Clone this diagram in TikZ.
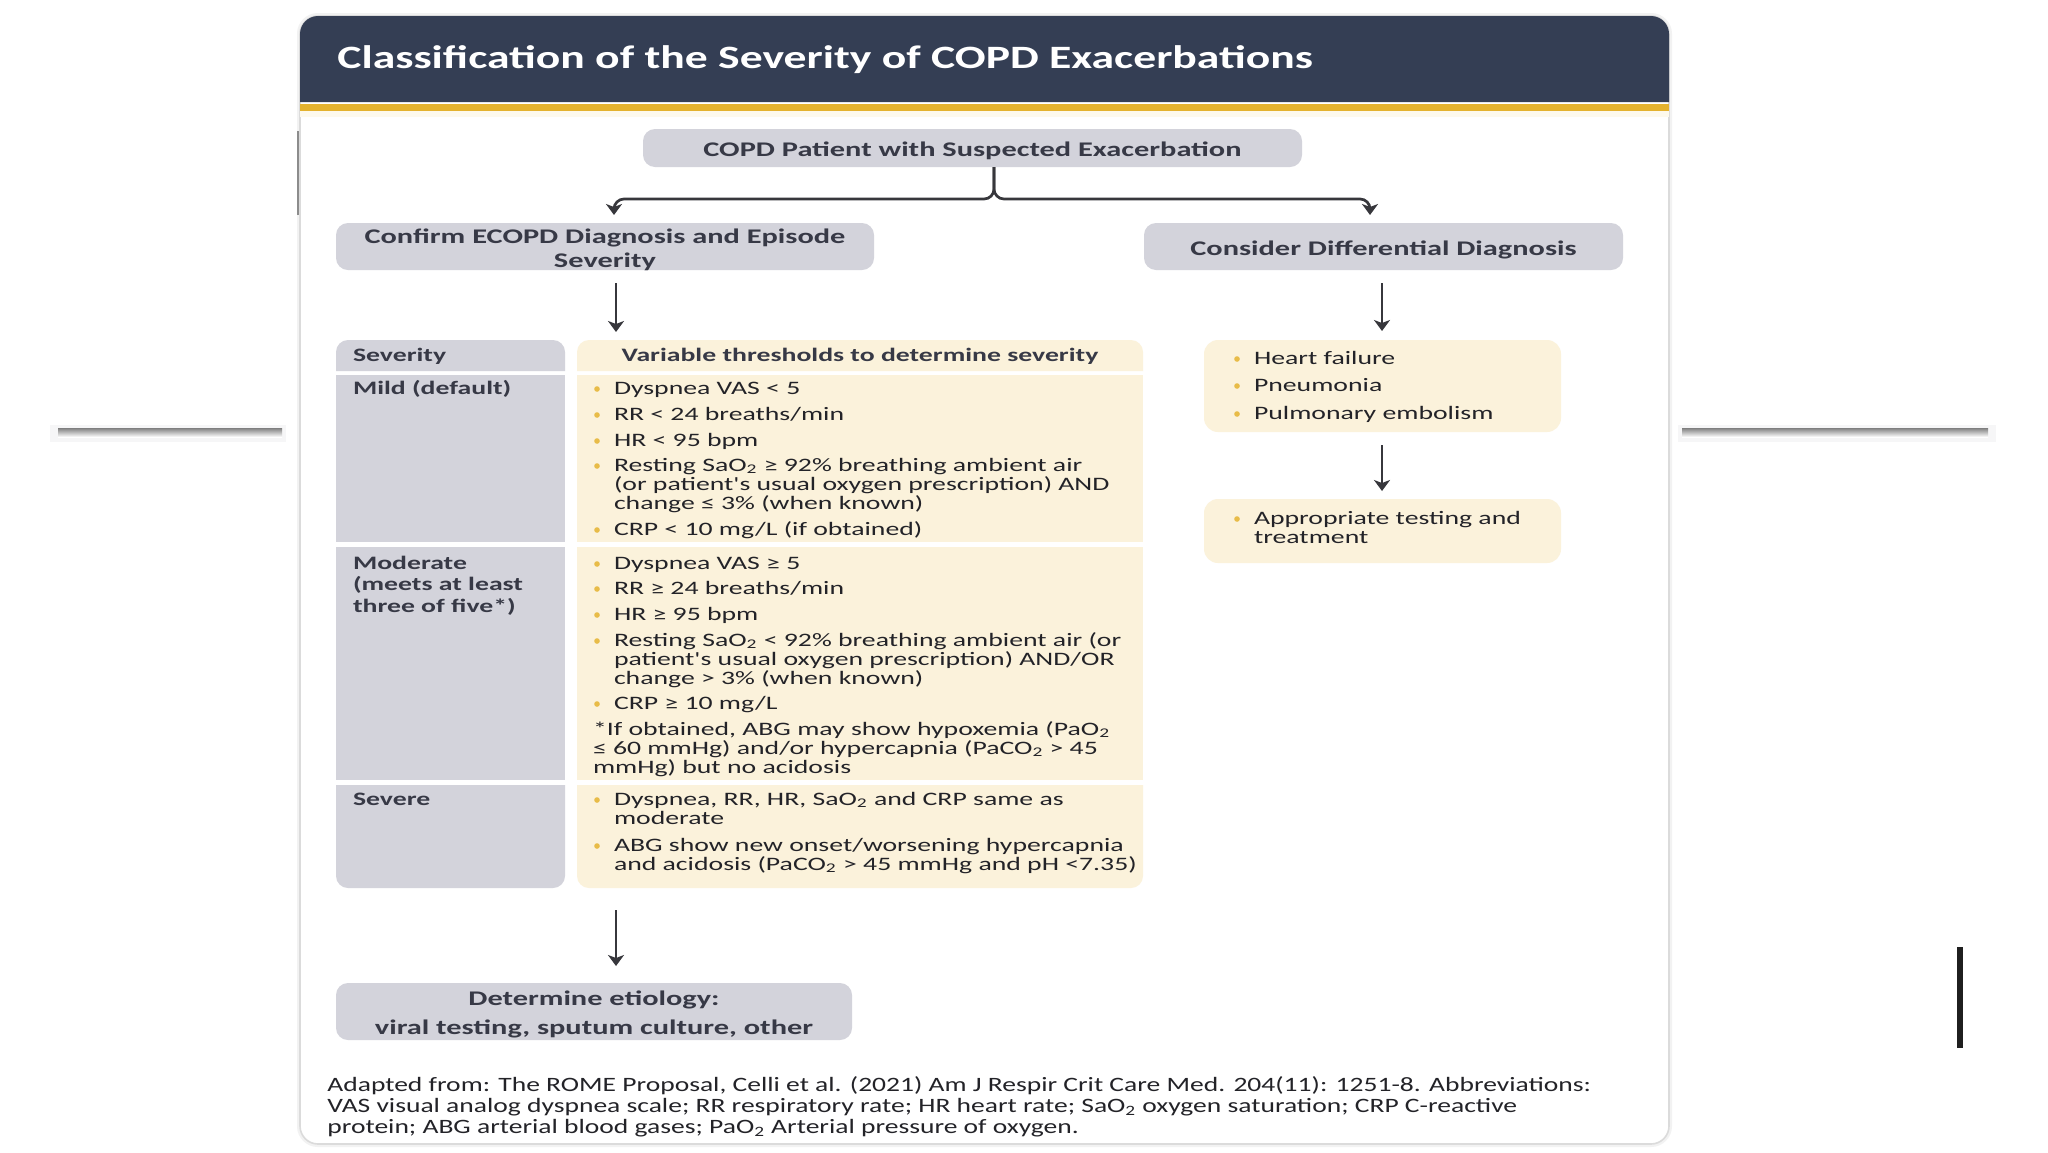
\documentclass[tikz,border=0pt]{standalone}
\usepackage{fontspec}
\setmainfont{Carlito}
\newfontfamily\famTitle{Carlito}[FakeStretch=1.40]
\newfontfamily\famBox{Carlito}[FakeStretch=1.46]
\newfontfamily\famBody{Carlito}[FakeStretch=1.46]
\newfontfamily\famFoot{Carlito}[FakeStretch=1.35]
\usetikzlibrary{arrows.meta,calc}
\definecolor{hdr}{RGB}{52,62,84}
\definecolor{gold}{RGB}{228,178,46}
\definecolor{gbox}{RGB}{211,211,219}
\definecolor{cream}{RGB}{251,242,219}
\definecolor{ink}{RGB}{35,35,40}
\definecolor{hink}{RGB}{55,57,70}
\definecolor{bulc}{RGB}{232,188,72}
\definecolor{conn}{RGB}{55,55,60}
\definecolor{shade}{RGB}{234,234,236}
\definecolor{shadesoft}{RGB}{246,246,247}
\newcommand\st{\rule{0pt}{8pt}}
\newcommand\bitem[4]{\fill[bulc] (#2-17,#3+1) circle (1.4pt);
  \node[item] (#1) at (#2,#3-10) {\st #4};}
\begin{document}
\begin{tikzpicture}[x=0.5pt,y=-0.5pt,
  box/.style={fill=gbox, rounded corners=6pt, inner sep=0pt, outer sep=0pt},
  boxtext/.style={inner sep=0pt, outer sep=0pt, text=hink, align=center,
    font=\famBox\bfseries\fontsize{10.4}{11.8}\selectfont},
  cbox/.style={fill=cream, rounded corners=7pt, inner sep=0pt, outer sep=0pt},
  item/.style={anchor=north west, inner sep=0pt, outer sep=0pt, align=left, text=ink,
    font=\famBody\fontsize{9.5}{9.6}\selectfont},
  lab/.style={item, text=hink, font=\famBody\bfseries\fontsize{9.5}{10.75}\selectfont},
  arr/.style={draw=conn, line width=1.35pt, -{Stealth[length=5.5pt,width=8pt,inset=1.5pt]}}]
\useasboundingbox (0,0) rectangle (2048,1152);
\fill[white] (0,0) rectangle (2048,1152);
% background remnants
\fill[shadesoft] (50,425) rectangle (286,442);
\fill[shade] (58,428) rectangle (282,437);
\fill[shadesoft] (1678,425) rectangle (1996,442);
\fill[shade] (1682,428) rectangle (1988,437);
\fill[black!88] (1957,947) rectangle (1963,1048);
% card
\draw[black!5, line width=3pt, rounded corners=9pt] (300,16) rectangle (1669,1144);
\filldraw[fill=white, draw=black!14, line width=0.8pt, rounded corners=9pt] (300,16) rectangle (1669,1144);
\fill[hdr] (300,102) [rounded corners=9pt] -- (300,16) -- (1669,16) [sharp corners] -- (1669,102) -- cycle;
\fill[gold] (300,104) rectangle (1669,111);
\fill[cream!50] (300,111) rectangle (1669,117);
\draw[black!45, line width=1pt] (298,131) -- (298,215);
% title
\node[anchor=base west, inner sep=0pt, text=white, font=\famTitle\bfseries\fontsize{16.3}{18}\selectfont] (title) at (337,68.5) {Classification of the Severity of COPD Exacerbations};
% boxes
\node[box, minimum width=329.5pt, minimum height=19pt] (top) at (972.5,148) {};
\node[boxtext] (toptxt) at ($(top)+(0,3)$) {COPD Patient with Suspected Exacerbation};
\node[box, minimum width=269pt, minimum height=23.5pt] (confirm) at (605,246.5) {};
\node[boxtext] (confirmtxt) at ($(confirm)+(0,3.5)$) {Confirm ECOPD Diagnosis and Episode\\Severity};
\node[box, minimum width=239.5pt, minimum height=23.5pt] (consider) at (1383.5,246.5) {};
\node[boxtext] (considertxt) at ($(consider)+(0,3)$) {Consider Differential Diagnosis};
\node[cbox, minimum width=178.5pt, minimum height=46pt] (hf) at (1382.5,386) {};
\node[cbox, minimum width=178.5pt, minimum height=32pt] (app) at (1382.5,531) {};
\node[box, minimum width=258pt, minimum height=28.5pt] (det) at (594,1011.5) {};
\node[boxtext] (dettxt) at ($(det)+(0,3)$) {Determine etiology:\\[3pt]viral testing, sputum culture, other};
% table
\fill[gbox] (336,371) [rounded corners=6pt] -- (336,340) -- (565,340) [sharp corners] -- (565,371) -- cycle;
\fill[cream] (577,371) [rounded corners=6pt] -- (577,340) -- (1143,340) [sharp corners] -- (1143,371) -- cycle;
\fill[gbox] (336,375) rectangle (565,542);
\fill[cream] (577,375) rectangle (1143,542);
\fill[gbox] (336,547) rectangle (565,780);
\fill[cream] (577,547) rectangle (1143,780);
\fill[gbox] (336,785) [rounded corners=6pt] -- (336,888) -- (565,888) [sharp corners] -- (565,785) -- cycle;
\fill[cream] (577,785) [rounded corners=6pt] -- (577,888) -- (1143,888) [sharp corners] -- (1143,785) -- cycle;
\coordinate (tabtop) at (616,340);
\coordinate (tabbot) at (616,888);
% labels
\node[lab] (lsev) at (353,355-10) {\st Severity};
\node[lab] (lmild) at (353,388-10) {\st Mild (default)};
\node[lab] (lmod) at (353,563-10) {\st Moderate\\(meets at least\\three of five*)};
\node[lab] (lsevere) at (353,799-10) {\st Severe};
\node[lab, anchor=north] (lvar) at (860,355-10) {\st Variable thresholds to determine severity};
% mild
\bitem{m1}{614}{388}{Dyspnea VAS < 5}
\bitem{m2}{614}{414}{RR < 24 breaths/min}
\bitem{m3}{614}{440}{HR < 95 bpm}
\bitem{m4}{614}{465}{Resting SaO\textsubscript{2} ≥ 92\% breathing ambient air\\(or patient's usual oxygen prescription) AND\\change ≤ 3\% (when known)}
\bitem{m5}{614}{529}{CRP < 10 mg/L (if obtained)}
% moderate
\bitem{d1}{614}{563}{Dyspnea VAS ≥ 5}
\bitem{d2}{614}{588}{RR ≥ 24 breaths/min}
\bitem{d3}{614}{614}{HR ≥ 95 bpm}
\bitem{d4}{614}{640}{Resting SaO\textsubscript{2} < 92\% breathing ambient air (or\\patient's usual oxygen prescription) AND/OR\\change > 3\% (when known)}
\bitem{d5}{614}{703}{CRP ≥ 10 mg/L}
\node[item] (dnote) at (593,729-10) {\st *If obtained, ABG may show hypoxemia (PaO\textsubscript{2}\\≤ 60 mmHg) and/or hypercapnia (PaCO\textsubscript{2} > 45\\mmHg) but no acidosis};
% severe
\bitem{s1}{614}{799}{Dyspnea, RR, HR, SaO\textsubscript{2} and CRP same as\\moderate}
\bitem{s2}{614}{845}{ABG show new onset/worsening hypercapnia\\and acidosis (PaCO\textsubscript{2} > 45 mmHg and pH <7.35)}
% right side
\bitem{h1}{1254}{358}{Heart failure}
\bitem{h2}{1254}{385}{Pneumonia}
\bitem{h3}{1254}{413}{Pulmonary embolism}
\bitem{a1}{1254}{518}{Appropriate testing and\\treatment}
% connectors
\coordinate (j) at (994,199);
\coordinate (cl) at ($(confirm.north)+(9,-8)$);
\coordinate (cr) at ($(consider.north)+(-13.5,-8)$);
\draw[arr, rounded corners=5pt] ($(top.south)+(21.5,0)$) -- (j) -- (j -| cl) -- (cl);
\draw[arr, rounded corners=5pt] ($(top.south)+(21.5,0)$) -- (j) -- (j -| cr) -- (cr);
\draw[arr] ($(confirm.south)+(11,13)$) -- ($(tabtop)+(0,-8)$);
\draw[arr] ($(consider.south)+(-1.5,13)$) -- ($(hf.north)+(-0.5,-9)$);
\draw[arr] ($(hf.south)+(-0.5,13)$) -- ($(app.north)+(-0.5,-8)$);
\draw[arr] ($(tabbot)+(0,22)$) -- ($(det.north)+(22,-17)$);
% footnote
\node[anchor=north west, inner sep=0pt, align=left, text=ink, font=\famFoot\fontsize{10.2}{10.5}\selectfont] (foot) at (327,1091-16) {\st Adapted from: The ROME Proposal, Celli et al. (2021) Am J Respir Crit Care Med. 204(11): 1251-8. Abbreviations:\\VAS visual analog dyspnea scale; RR respiratory rate; HR heart rate; SaO\textsubscript{2} oxygen saturation; CRP C-reactive\\protein; ABG arterial blood gases; PaO\textsubscript{2} Arterial pressure of oxygen.};
\end{tikzpicture}
\end{document}
